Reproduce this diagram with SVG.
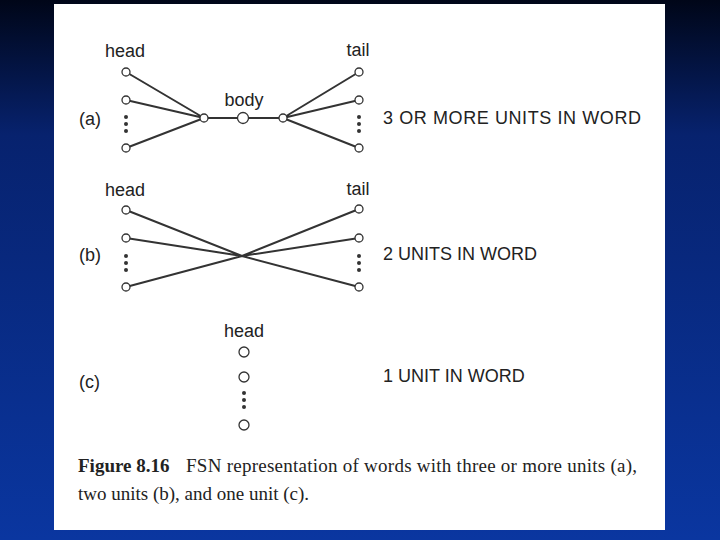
<svg xmlns="http://www.w3.org/2000/svg" width="720" height="540" viewBox="0 0 720 540">
<defs>
<linearGradient id="bg" x1="0" y1="0" x2="0" y2="1">
<stop offset="0" stop-color="#000618"/>
<stop offset="0.25" stop-color="#07226e"/>
<stop offset="1" stop-color="#0a36a0"/>
</linearGradient>
<style>
.n{fill:#fff;stroke:#333;stroke-width:1.3}
.e{stroke:#333;stroke-width:2;fill:none}
.d{fill:#333}
.t{font-family:"Liberation Sans",Arial,sans-serif;font-size:18px;fill:#222}
.c{font-family:"Liberation Serif","Times New Roman",serif;font-size:19px;fill:#222}
</style>
</defs>
<rect width="720" height="540" fill="url(#bg)"/>
<rect x="54" y="4" width="611" height="526" fill="#fff"/>
<g id="connectors">
<path class="e" d="M126 72L204 118M126 100L204 118M126 148L204 118M204 118H283M283 118L359 72M283 118L359 100M283 118L359 148"/>
<path class="e" d="M126 210L242 256M126 238L242 256M126 287L242 256M242 256L359 209M242 256L359 238M242 256L359 287"/>
</g>
<g id="a">
<text class="t" x="125" y="57" text-anchor="middle">head</text>
<text class="t" x="358" y="56" text-anchor="middle">tail</text>
<text class="t" x="244" y="106" text-anchor="middle">body</text>
<text class="t" x="79" y="125">(a)</text>
<text class="t" x="383" y="124" textLength="258">3 OR MORE UNITS IN WORD</text>
<circle class="n" cx="126" cy="72" r="4"/><circle class="n" cx="126" cy="100" r="4"/><circle class="n" cx="126" cy="148" r="4"/>
<circle class="d" cx="126" cy="117" r="2"/><circle class="d" cx="126" cy="124" r="2"/><circle class="d" cx="126" cy="131" r="2"/>
<circle class="n" cx="204" cy="118" r="4"/><circle class="n" cx="243" cy="118" r="5.5"/><circle class="n" cx="283" cy="118" r="4"/>
<circle class="n" cx="359" cy="72" r="4"/><circle class="n" cx="359" cy="100" r="4"/><circle class="n" cx="359" cy="148" r="4"/>
<circle class="d" cx="359" cy="117" r="2"/><circle class="d" cx="359" cy="124" r="2"/><circle class="d" cx="359" cy="131" r="2"/>
</g>
<g id="b">
<text class="t" x="125" y="196" text-anchor="middle">head</text>
<text class="t" x="358" y="195" text-anchor="middle">tail</text>
<text class="t" x="79" y="261">(b)</text>
<text class="t" x="383" y="260">2 UNITS IN WORD</text>
<circle class="n" cx="126" cy="210" r="4"/><circle class="n" cx="126" cy="238" r="4"/><circle class="n" cx="126" cy="287" r="4"/>
<circle class="d" cx="126" cy="256" r="2"/><circle class="d" cx="126" cy="263" r="2"/><circle class="d" cx="126" cy="270" r="2"/>
<circle class="n" cx="359" cy="209" r="4"/><circle class="n" cx="359" cy="238" r="4"/><circle class="n" cx="359" cy="287" r="4"/>
<circle class="d" cx="359" cy="256" r="2"/><circle class="d" cx="359" cy="263" r="2"/><circle class="d" cx="359" cy="270" r="2"/>
</g>
<g id="c">
<text class="t" x="244" y="337" text-anchor="middle">head</text>
<text class="t" x="79" y="388">(c)</text>
<text class="t" x="383" y="382">1 UNIT IN WORD</text>
<circle class="n" cx="244" cy="352" r="5"/><circle class="n" cx="244" cy="377" r="5"/><circle class="n" cx="244" cy="425" r="5"/>
<circle class="d" cx="244" cy="393" r="2"/><circle class="d" cx="244" cy="400" r="2"/><circle class="d" cx="244" cy="407" r="2"/>
</g>
<g id="caption">
<text class="c" x="78" y="472" font-weight="bold">Figure 8.16</text>
<text class="c" x="186" y="472" textLength="451">FSN representation of words with three or more units (a),</text>
<text class="c" x="78" y="500">two units (b), and one unit (c).</text>
</g>
</svg>
